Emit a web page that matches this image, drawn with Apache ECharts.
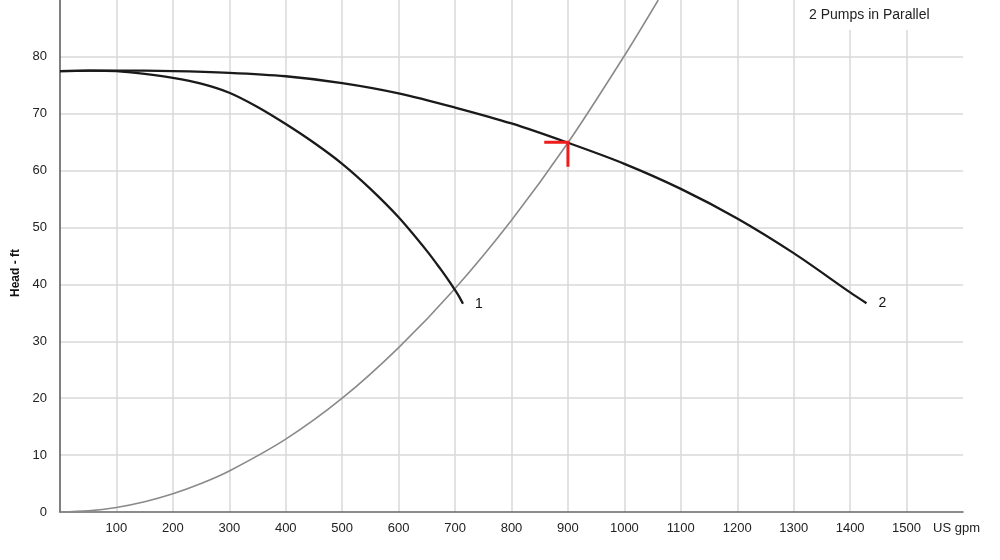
<!DOCTYPE html>
<html><head><meta charset="utf-8">
<script src="https://cdn.jsdelivr.net/npm/echarts@6/dist/echarts.min.js"></script>
<style>html,body{margin:0;padding:0;background:#fff}#c{width:1000px;height:560px}</style>
</head><body><div id="c"></div>
<script>
// Pump curve 1 (single pump)
const flow1 = [0, 50, 100, 150, 200, 250, 300, 350, 400, 450, 500, 550, 600, 650, 675, 690, 700, 707, 714];
const head1 = [77.5, 77.6, 77.5, 77.0, 76.3, 75.3, 73.7, 71.2, 68.2, 64.9, 61.2, 56.8, 51.8, 45.9, 42.6, 40.5, 39.0, 37.9, 36.6];
// Pump curve 2 (2 pumps in parallel)
const flow2 = [0, 100, 200, 300, 400, 500, 600, 700, 800, 900, 1000, 1100, 1200, 1300, 1400, 1429];
const head2 = [77.5, 77.6, 77.5, 77.2, 76.6, 75.4, 73.6, 71.1, 68.3, 64.9, 61.2, 56.8, 51.6, 45.5, 38.6, 36.7];
// System curve
const flowSys = [0, 50, 100, 150, 200, 250, 300, 400, 500, 600, 700, 800, 900, 1000, 1060];
const headSys = [0, 0.2, 0.8, 1.8, 3.2, 5.0, 7.2, 12.8, 20.0, 28.9, 39.3, 51.3, 64.9, 80.2, 90];
// Operating point marker
const markFlow = [858, 900, 900];
const markHead = [65, 65, 60.7];

const titleText = '2 Pumps in Parallel';
const xName = 'US gpm';
const yName = 'Head - ft';
const label1 = '1';
const label2 = '2';

const zip = (a, b) => a.map((v, i) => [v, b[i]]);
const FONT = '"Liberation Sans", Arial, sans-serif';

const chart = echarts.init(document.getElementById('c'));
chart.setOption({
  animation: false,
  backgroundColor: '#fff',
  textStyle: { fontFamily: FONT },
  title: {
    text: titleText,
    left: 799, top: 0,
    padding: [8, 10, 8, 10],
    backgroundColor: '#fff',
    textStyle: { fontFamily: FONT, fontSize: 14, fontWeight: 'normal', color: '#222' }
  },
  grid: { left: 60, right: 37, top: 0, bottom: 48, containLabel: false, outerBoundsMode: 'none' },
  xAxis: {
    type: 'value', min: 0, max: 1600, interval: 100,
    name: xName, nameLocation: 'end', nameGap: -30,
    nameTextStyle: { fontFamily: FONT, fontSize: 13, color: '#222', verticalAlign: 'top', padding: [10, 0, 0, 0] },
    axisLine: { show: true, lineStyle: { color: '#666', width: 1.5 } },
    axisTick: { show: false },
    axisLabel: {
      fontFamily: FONT, fontSize: 13, color: '#222', margin: 10,
      formatter: v => (v === 0 || v === 1600) ? '' : String(v)
    },
    splitLine: { show: true, showMinLine: false, showMaxLine: false, lineStyle: { color: '#d9d9d9', width: 1.5 } }
  },
  yAxis: {
    type: 'value', min: 0, max: 90, interval: 10,
    name: yName, nameLocation: 'middle', nameGap: 36, nameRotate: 90,
    nameTextStyle: { fontFamily: FONT, fontSize: 12, fontWeight: 'bold', color: '#111', padding: [0, 34, 0, 0] },
    axisLine: { show: true, lineStyle: { color: '#555', width: 1.5 } },
    axisTick: { show: false },
    axisLabel: { fontFamily: FONT, fontSize: 13, color: '#222', margin: 13, showMaxLabel: false },
    splitLine: { show: true, showMinLine: false, showMaxLine: false, lineStyle: { color: '#d9d9d9', width: 1.5 } }
  },
  series: [
    {
      type: 'line', data: zip(flowSys, headSys), smooth: 0.3,
      showSymbol: false, lineStyle: { color: '#8a8a8a', width: 1.6 }, clip: true, z: 2
    },
    {
      type: 'line', data: zip(flow1, head1), smooth: 0.3,
      showSymbol: false, lineStyle: { color: '#1a1a1a', width: 2.3 }, z: 3,
      endLabel: { show: true, formatter: label1, distance: 12, fontFamily: FONT, fontSize: 14, color: '#111' }
    },
    {
      type: 'line', data: zip(flow2, head2), smooth: 0.3,
      showSymbol: false, lineStyle: { color: '#1a1a1a', width: 2.3 }, z: 3,
      endLabel: { show: true, formatter: label2, distance: 12, fontFamily: FONT, fontSize: 14, color: '#111' }
    },
    {
      type: 'line', data: zip(markFlow, markHead), smooth: false,
      showSymbol: false, lineStyle: { color: '#ee1c1c', width: 3, cap: 'butt', join: 'miter' }, z: 4
    }
  ]
});
</script>
</body></html>
